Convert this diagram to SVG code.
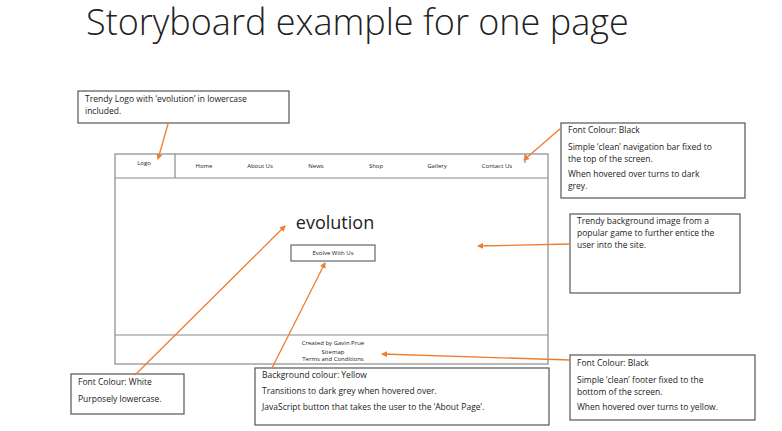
<svg xmlns="http://www.w3.org/2000/svg" width="782" height="431" viewBox="0 0 782 431">
<style>
text{font-family:"Open Sans","Liberation Sans",sans-serif;fill:#222}
.t{font-size:8.5px}.s{font-size:6px}
.box{fill:#fff;stroke:#555;stroke-width:1.2}
.w{fill:none;stroke:#8a8a8a;stroke-width:1.2}
.c line{stroke:#ED7D31;stroke-width:1.3;marker-end:url(#a)}
</style>
<defs><marker id="a" markerWidth="6" markerHeight="6" refX="5" refY="3" orient="auto" markerUnits="userSpaceOnUse"><path d="M0,0L6,3L0,6z" fill="#ED7D31"/></marker></defs>
<rect width="782" height="431" fill="#fff"/>
<text x="86" y="35" style="font-size:36px;font-family:'Open Sans','Liberation Sans',sans-serif;font-weight:300" fill="#111">Storyboard example for one page</text>
<g id="page">
<rect class="w" x="115" y="154" width="433" height="210"/>
<line class="w" x1="115" y1="178" x2="548" y2="178"/>
<line class="w" x1="175" y1="154" x2="175" y2="178"/>
<line class="w" x1="525" y1="154" x2="525" y2="163"/>
<line class="w" x1="115" y1="335" x2="548" y2="335"/>
<g class="s" text-anchor="middle"><text x="144" y="165">Logo</text><text x="204" y="168">Home</text><text x="260" y="168">About Us</text><text x="316" y="168">News</text><text x="376" y="168">Shop</text><text x="437" y="168">Gallery</text><text x="497" y="168">Contact Us</text>
<text x="333" y="345">Created by Gavin Prue</text><text x="333" y="354">Sitemap</text><text x="333" y="361">Terms and Conditions</text></g>
<text x="335" y="229" text-anchor="middle" style="font-size:18px">evolution</text>
<rect class="w" x="291" y="245" width="84" height="16" style="stroke:#666"/>
<text class="s" x="333" y="255" text-anchor="middle">Evolve With Us</text>
</g>
<g id="n-logo"><rect class="box" x="78" y="91" width="211" height="32"/><text class="t" x="85" y="102">Trendy Logo with ‘evolution’ in lowercase</text><text class="t" x="85" y="114">included.</text></g>
<g id="n-nav"><rect class="box" x="561" y="123" width="184" height="75"/><text class="t" x="568" y="133">Font Colour: Black</text><text class="t" x="568" y="150">Simple ‘clean’ navigation bar fixed to</text><text class="t" x="568" y="162">the top of the screen.</text><text class="t" x="568" y="177">When hovered over turns to dark</text><text class="t" x="568" y="189">grey.</text></g>
<g id="n-bg"><rect class="box" x="570" y="214" width="170" height="79"/><text class="t" x="577" y="224">Trendy background image from a</text><text class="t" x="577" y="236">popular game to further entice the</text><text class="t" x="577" y="248">user into the site.</text></g>
<g id="n-footer"><rect class="box" x="570" y="355" width="185" height="65"/><text class="t" x="577" y="366">Font Colour: Black</text><text class="t" x="577" y="383">Simple ‘clean’ footer fixed to the</text><text class="t" x="577" y="395">bottom of the screen.</text><text class="t" x="577" y="410">When hovered over turns to yellow.</text></g>
<g id="n-white"><rect class="box" x="71" y="374" width="113" height="40"/><text class="t" x="78" y="385">Font Colour: White</text><text class="t" x="78" y="402">Purposely lowercase.</text></g>
<g id="n-button"><rect class="box" x="255" y="368" width="294" height="57"/><text class="t" x="262" y="378">Background colour: Yellow</text><text class="t" x="262" y="394">Transitions to dark grey when hovered over.</text><text class="t" x="262" y="410">JavaScript button that takes the user to the ‘About Page’.</text></g>
<g id="connectors" class="c">
<line x1="168" y1="124" x2="158" y2="159"/>
<line x1="561" y1="128" x2="524" y2="160"/>
<line x1="570" y1="244" x2="478" y2="246"/>
<line x1="570" y1="360" x2="382" y2="354"/>
<line x1="135" y1="375" x2="285" y2="226"/>
<line x1="272" y1="368" x2="325" y2="263"/>
</g>
</svg>
